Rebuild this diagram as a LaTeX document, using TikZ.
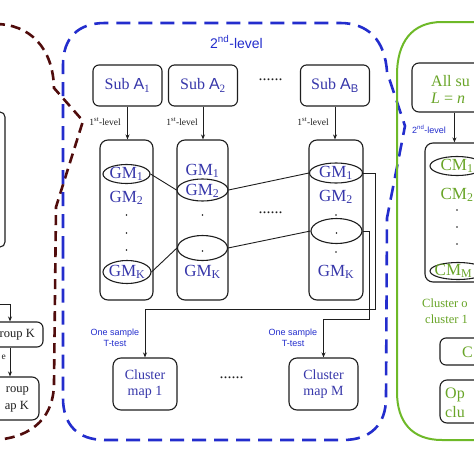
\documentclass[tikz,border=0pt]{standalone}
\usepackage{fontspec}
\setmainfont{Liberation Serif}
\setsansfont{Liberation Sans}
\usetikzlibrary{arrows.meta,shapes.geometric}
\definecolor{tblue}{RGB}{55,55,170}
\definecolor{dblue}{RGB}{35,45,205}
\definecolor{brn}{RGB}{80,12,12}
\definecolor{grn}{RGB}{110,185,40}
\definecolor{gtxt}{RGB}{105,165,40}
\definecolor{ink}{RGB}{30,30,30}
\begin{document}
\begin{tikzpicture}[x=1pt,y=-1pt,
  box/.style={draw=ink, line width=1.1pt, rounded corners=6pt, inner sep=0pt},
  ell/.style={draw=ink, line width=1.1pt, ellipse, inner sep=0pt},
  gm/.style={text=tblue, font=\fontsize{17}{17}\selectfont, inner sep=0pt},
  cmt/.style={text=gtxt, font=\fontsize{17}{17}\selectfont, inner sep=0pt},
  subt/.style={text=tblue, font=\fontsize{16}{16}\selectfont},
  gtx/.style={text=gtxt, font=\fontsize{16}{16}\selectfont, inner sep=0pt},
  gtxs/.style={text=gtxt, font=\fontsize{12.5}{13}\selectfont, inner sep=0pt},
  ltx/.style={text=ink, font=\fontsize{12.5}{13}\selectfont, inner sep=0pt},
  arr/.style={draw=ink, line width=0.9pt, -{Stealth[length=5pt,width=4pt]}},
  lnk/.style={draw=ink, line width=0.9pt},
  lvl/.style={text=ink, font=\fontsize{9.5}{10}\selectfont, inner sep=0pt},
  tsans/.style={text=dblue, font=\sffamily\fontsize{9}{11}\selectfont, align=center, inner sep=0pt},
  dotn/.style={circle, fill=ink, inner sep=0pt, minimum size=1.6pt},
  dots/.style={text=ink, font=\fontsize{16}{16}\selectfont, inner sep=0pt},
  bluedash/.style={draw=dblue, line width=2.6pt, dash pattern=on 14pt off 8pt},
  browndash/.style={draw=brn, line width=2.6pt, dash pattern=on 10pt off 6pt}]
\useasboundingbox (0,0) rectangle (474,474);
\clip (0,0) rectangle (474,474);
\fill[white] (0,0) rectangle (474,474);

% outer regions
\draw[browndash] (-5,24) .. controls (30,24) and (53,48) .. (54,88) -- (83,121) -- (56,207) -- (54,383) .. controls (54,415) and (35,437) .. (-5,440);
\draw[bluedash] (63,250) -- (63,65) .. controls (63,38) and (78,23) .. (105,23) -- (340,23) .. controls (368,23) and (385,40) .. (387,72) -- (405,126) -- (387,218) -- (386,398) .. controls (386,425) and (370,440) .. (343,440) -- (105,440) .. controls (78,440) and (63,425) .. (63,398) -- cycle;
\draw[grn, line width=2pt] (480,22) -- (442,22) .. controls (412,22) and (397,42) .. (397,75) -- (397,392) .. controls (397,422) and (412,440) .. (442,440) -- (480,440);

\node[font=\sffamily\fontsize{14}{14}\selectfont, text=dblue] (t2) at (236.5,42) {2\textsuperscript{nd}-level};

% subjects
\node[box, subt, minimum width=69pt, minimum height=41pt] (s1) at (127.5,85.5) {Sub {\sffamily A}\textsubscript{1}};
\node[box, subt, minimum width=69pt, minimum height=41pt] (s2) at (203,85.5) {Sub {\sffamily A}\textsubscript{2}};
\node[box, subt, minimum width=69pt, minimum height=41pt] (sB) at (335,85.5) {Sub {\sffamily A}\textsubscript{\sffamily B}};
\node[dots] (dd1) at (270.5,80) {......};

% columns
\node[box, rounded corners=8pt, minimum width=53pt, minimum height=160pt] (c1) at (126.5,220) {};
\node[box, rounded corners=8pt, minimum width=51pt, minimum height=160pt] (c2) at (202.5,220) {};
\node[box, rounded corners=8pt, minimum width=54pt, minimum height=160pt] (cB) at (336,220) {};

\draw[arr] (s1.south) -- (s1.south |- c1.north);
\draw[arr] (s2.south) -- (s2.south |- c2.north);
\draw[arr] (sB.south) -- (sB.south |- cB.north);
\node[lvl, anchor=east] (l1) at (121,122) {1\textsuperscript{st}-level};
\node[lvl, anchor=east] (l2) at (198,122) {1\textsuperscript{st}-level};
\node[lvl, anchor=east] (lB) at (329,122) {1\textsuperscript{st}-level};

% column 1
\node[ell, minimum width=47pt, minimum height=19pt] (e11) at (126.5,174) {};
\node[gm] (g11) at (126.5,174) {GM\textsubscript{1}};
\node[gm] (g12) at (126.5,198) {GM\textsubscript{2}};
\node[dotn] (d11) at (126.5,215) {};
\node[dotn] (d12) at (126.5,233) {};
\node[dotn] (d13) at (126.5,250) {};
\node[ell, minimum width=48pt, minimum height=23pt] (e1K) at (127,272) {};
\node[gm] (g1K) at (127,272) {GM\textsubscript{K}};

% column 2
\node[gm] (g21) at (202.5,171) {GM\textsubscript{1}};
\node[ell, minimum width=51pt, minimum height=22pt] (e22) at (202.5,190) {};
\node[gm] (g22) at (202.5,191) {GM\textsubscript{2}};
\node[dotn] (d21) at (202.5,215) {};
\node[ell, minimum width=50pt, minimum height=25pt] (e2x) at (202.5,248) {};
\node[dotn] (d22) at (202.5,251) {};
\node[gm] (g2K) at (202.5,272) {GM\textsubscript{K}};

% column B
\node[ell, minimum width=53pt, minimum height=20pt] (eB1) at (336,173) {};
\node[gm] (gB1) at (336,173) {GM\textsubscript{1}};
\node[gm] (gB2) at (336,197) {GM\textsubscript{2}};
\node[dotn] (dB1) at (336,215) {};
\node[ell, minimum width=51pt, minimum height=25pt] (eB2) at (336.5,231) {};
\node[dotn] (dB2) at (336.5,233) {};
\node[dotn] (dB3) at (336,252) {};
\node[gm] (gBK) at (336,272) {GM\textsubscript{K}};

\node[dots] (dd2) at (270.5,213) {......};

% links
\draw[lnk] (e11.east) -- (e22.west);
\draw[lnk] (e1K.east) -- (e2x.west);
\draw[lnk] (e22.east) -- (eB1.west);
\draw[lnk] (e2x.east) -- (eB2.west);

% cluster maps
\node[box, rounded corners=8pt, minimum width=64pt, minimum height=52pt, align=center, text=tblue, font=\fontsize{14}{16}\selectfont] (cm1) at (145,384) {Cluster\\map 1};
\node[box, rounded corners=8pt, minimum width=69pt, minimum height=52pt, align=center, text=tblue, font=\fontsize{14}{16}\selectfont] (cmM) at (323.5,384) {Cluster\\map M};
\node[dots] (dd3) at (231.5,378) {......};

\coordinate (k1) at (375,309);
\coordinate (k2) at (369,319);
\draw[arr] (eB1.east) -| (k1) -| (cm1.north);
\draw[arr] (eB2.east) -| (k2) -| (cmM.north);
\node[tsans] (os1) at (115,337.5) {One sample\\T-test};
\node[tsans] (osM) at (293,337.5) {One sample\\T-test};

% right (green) part
\node[box, rounded corners=7pt, minimum width=110pt, minimum height=49pt] (asub) at (467,87.5) {};
\node[gtx, anchor=west] (at1) at (431,81) {All su};
\node[gtx, anchor=west] (at2) at (431,98) {\textit{L} = \textit{n}};
\path (asub.south west) ++(43,0) coordinate (ga);
\node[box, rounded corners=8pt, minimum width=100pt, minimum height=139pt] (cmc) at (475,212.5) {};
\draw[arr] (ga) -- (ga |- cmc.north);
\node[tsans, anchor=west] (g2l) at (412,129) {2\textsuperscript{nd}-level};
\node[ell, minimum width=54pt, minimum height=19pt] (ec1) at (457,166) {};
\node[cmt] (cm1t) at (457,166) {CM\textsubscript{1}};
\node[cmt] (cm2t) at (457,195) {CM\textsubscript{2}};
\node[dotn] (cd1) at (457,210) {};
\node[dotn] (cd2) at (457,227) {};
\node[dotn] (cd3) at (457,244) {};
\node[ell, minimum width=56pt, minimum height=17pt] (ecM) at (458,271) {};
\node[cmt, anchor=west] (cmMt) at (434.5,271) {CM\textsubscript{M}};
\node[gtxs, anchor=west] (co1) at (422,303) {Cluster o};
\node[gtxs, anchor=west] (co2) at (425,319) {cluster 1};
\node[box, rounded corners=6pt, minimum width=72pt, minimum height=27pt] (sb) at (476,351.5) {};
\node[gtx, anchor=west] (sbt) at (462,352) {C};
\node[box, rounded corners=7pt, minimum width=72pt, minimum height=43pt] (ob) at (476,401.5) {};
\node[gtx, anchor=west] (ob1) at (445,395) {Op};
\node[gtx, anchor=west] (ob2) at (445,412) {clu};

% left (brown) part
\node[box, rounded corners=5pt, minimum width=20pt, minimum height=135pt] (lb) at (-5,179.5) {};
\node[box, minimum width=66pt, minimum height=25pt] (gk) at (10,334.5) {};
\node[ltx, anchor=east] (gkt) at (35,335) {roup K};
\node[box, rounded corners=7pt, minimum width=62pt, minimum height=43pt] (gmk) at (8,398.5) {};
\node[ltx, anchor=east] (gmk1) at (29,391) {roup};
\node[ltx, anchor=east] (gmk2) at (29,407) {ap K};
\coordinate (la) at (-2,304);
\draw[arr] (la) -| (gk.north);
\draw[arr] (gk.south) -- (gk.south |- gmk.north);
\node[lvl, anchor=east] (le) at (6,357) {e};
\end{tikzpicture}
\end{document}
